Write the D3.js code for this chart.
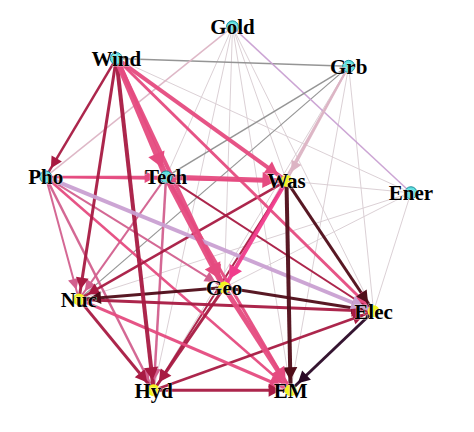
<!DOCTYPE html>
<html><head><meta charset="utf-8">
<script src="https://cdn.jsdelivr.net/npm/d3@7"></script>
<style>body{margin:0;background:#fff}</style></head>
<body><svg id="chart" width="474" height="432"></svg>
<script>
// node names and layout coordinates (0-100 space)
const names = ["Gold","Wind","Grb","Pho","Tech","Was","Ener","Nuc","Geo","Elec","Hyd","EM"];
const nodeX = [50,22,78,5,34,63,93,13,48,84,31,64];
const nodeY = [3,11,13,41,41,42,45,72,69,75,95,95];
const nodeKind = ["c","c","c","c","c","y","c","y","y","y","y","y"];

// edges: source, target, weight, colour group
const edgeSrc = ["Wind","Wind","Wind","Wind","Wind","Wind","Wind","Wind","Wind","Gold","Gold","Gold","Gold","Gold","Gold","Gold","Gold","Grb","Grb","Grb","Grb","Grb","Grb","Grb","Ener","Ener","Ener","Ener","Pho","Pho","Pho","Pho","Pho","Pho","Pho","Tech","Tech","Tech","Tech","Tech","Tech","Was","Was","Was","Was","Was","Geo","Geo","Geo","Geo","Nuc","Nuc","Nuc","Hyd","Hyd","Elec"];
const edgeTgt = ["Grb","Pho","Nuc","Hyd","Tech","Geo","Was","Elec","Ener","Pho","Tech","Geo","Was","Elec","Ener","Hyd","EM","Tech","Nuc","Was","Geo","Elec","EM","Hyd","Was","Geo","Nuc","Elec","Tech","Was","Elec","Nuc","Hyd","EM","Geo","Geo","Was","Nuc","Hyd","Elec","EM","Nuc","Geo","EM","Elec","Hyd","Nuc","Elec","Hyd","EM","Elec","Hyd","EM","EM","Elec","EM"];
const edgeW = [1.5,2.5,3,4,6,4,4,3,1,1.5,1,1,1,1,1.5,1,1,1.5,1.2,2,2,1,1,1,1,1,1,1,2.5,2,4,2,2.5,2.5,2,6,5,2,2.5,2,3,2.5,4,4,3,2,3,3,3,5,3,3,3,3,2.5,3];
const edgeC = ["grey","crim","crim","crim","pink","pink","pink","pink","lgrey","lpink","lgrey","lgrey","lgrey","lgrey","lav","lgrey","lgrey","grey","grey","lpink","lpink","lgrey","lgrey","lgrey","lgrey","lgrey","lgrey","lgrey","pink","pink","lav","mpink","mpink","pink","mpink","pink","pink","mpink","mpink","crim","pink","crim","hot","dark","dark","crim","dark","dark","crim","pink","crim","crim","pink","crim","crim","purp"];

const palette = {grey:"#8f8f8f",lgrey:"#d9cdd3",lpink:"#dcb4c4",lav:"#c9a0d2",pink:"#e54b80",mpink:"#d2608e",hot:"#f03c8c",crim:"#a81a42",dark:"#4f0c18",purp:"#2a0826"};

const svg = d3.select("#chart");
const x = d3.scaleLinear().domain([0,100]).range([25,440]);
const y = d3.scaleLinear().domain([0,100]).range([15,410]);
const nodes = names.map((n,i)=>({name:n,x:x(nodeX[i]),y:y(nodeY[i]),kind:nodeKind[i]}));
const byName = new Map(nodes.map(d=>[d.name,d]));
const edges = edgeSrc.map((s,i)=>({s:byName.get(s),t:byName.get(edgeTgt[i]),w:edgeW[i],c:palette[edgeC[i]]}));

// light edges first
edges.sort((a,b)=>a.w-b.w);
svg.append("g").selectAll("line").data(edges).join("line")
  .attr("x1",d=>d.s.x).attr("y1",d=>d.s.y).attr("x2",d=>d.t.x).attr("y2",d=>d.t.y)
  .attr("stroke",d=>d.c).attr("stroke-width",d=>d.w).attr("stroke-opacity",0.95);

// arrowheads near target for weighted edges
svg.append("g").selectAll("path").data(edges.filter(d=>d.w>=2)).join("path")
  .attr("d",d=>{
    const dx=d.t.x-d.s.x, dy=d.t.y-d.s.y, L=Math.hypot(dx,dy), ux=dx/L, uy=dy/L;
    const tx=d.t.x-ux*10, ty=d.t.y-uy*10, a=4+d.w*0.8, b=9+d.w;
    return `M${tx},${ty}L${tx-ux*b-uy*a},${ty-uy*b+ux*a}L${tx-ux*b+uy*a},${ty-uy*b-ux*a}Z`;
  }).attr("fill",d=>d.c);

const ng = svg.append("g").selectAll("g").data(nodes).join("g")
  .attr("transform",d=>`translate(${d.x},${d.y})`);
ng.append("circle").attr("r",6)
  .attr("fill",d=>d.kind==="c"?"#5fe0e0":"#f2f21e").attr("stroke",d=>d.kind==="c"?"#1a8c9a":"none");
ng.append("text").text(d=>d.name).attr("text-anchor","middle").attr("dy","0.35em")
  .attr("font-family","'Liberation Serif','DejaVu Serif',serif").attr("font-weight","bold")
  .attr("font-size",21).attr("fill","#000")
  .attr("stroke","#fff").attr("stroke-width",0.6).attr("paint-order","stroke");
</script></body></html>
